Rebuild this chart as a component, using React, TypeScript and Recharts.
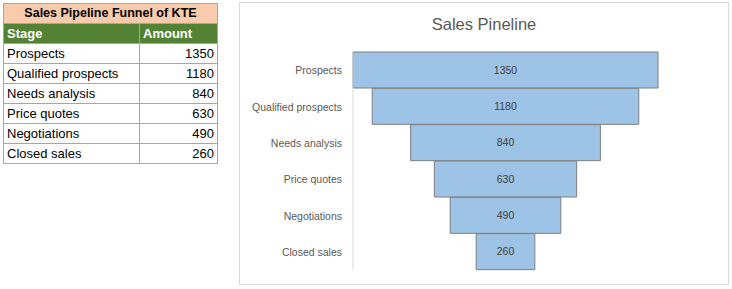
import { BarChart, Bar, XAxis, YAxis, LabelList } from "recharts";

const stages = [
  "Prospects",
  "Qualified prospects",
  "Needs analysis",
  "Price quotes",
  "Negotiations",
  "Closed sales",
];
const amounts = [1350, 1180, 840, 630, 490, 260];

const maxAmount = Math.max(...amounts);
const data = stages.map((stage, i) => ({
  stage,
  offset: (maxAmount - amounts[i]) / 2,
  amount: amounts[i],
}));

const FONT = '"Liberation Sans", Arial, sans-serif';
const cellBorder = "1px solid #a6a6a6";

function StageTick({ x, y, payload }: any) {
  return (
    <text x={x} y={y} dy={4} textAnchor="end" fontSize={10.5} fill="#595959" fontFamily={FONT}>
      {payload.value}
    </text>
  );
}

function PipelineTable() {
  const cell = {
    borderLeft: cellBorder,
    borderTop: cellBorder,
    height: 19,
    padding: "0 3px",
    fontSize: 13,
    lineHeight: "19px",
    color: "#000",
  } as const;
  return (
    <div
      style={{
        position: "absolute",
        left: 3,
        top: 3,
        width: 214,
        fontFamily: FONT,
        borderRight: cellBorder,
        borderBottom: cellBorder,
      }}
    >
      <div
        style={{
          ...cell,
          background: "#F8CBAD",
          fontWeight: "bold",
          textAlign: "center",
          fontSize: 12.5,
        }}
      >
        Sales Pipeline Funnel of KTE
      </div>
      <div style={{ display: "flex" }}>
        <div style={{ ...cell, width: 129, background: "#548235", color: "#fff", fontWeight: "bold" }}>
          Stage
        </div>
        <div style={{ ...cell, flex: 1, background: "#548235", color: "#fff", fontWeight: "bold" }}>
          Amount
        </div>
      </div>
      {stages.map((s, i) => (
        <div key={s} style={{ display: "flex" }}>
          <div style={{ ...cell, width: 129 }}>{s}</div>
          <div style={{ ...cell, flex: 1, textAlign: "right" }}>{amounts[i]}</div>
        </div>
      ))}
    </div>
  );
}

export default function App() {
  return (
    <div
      style={{
        position: "absolute",
        left: 0,
        top: 0,
        width: 732,
        height: 289,
        background: "#fff",
        fontFamily: FONT,
      }}
    >
      <PipelineTable />
      <div
        style={{
          position: "absolute",
          left: 239,
          top: 2,
          width: 488,
          height: 281,
          border: "1px solid #d9d9d9",
        }}
      >
        <div
          style={{
            position: "absolute",
            left: 0,
            top: 12,
            width: "100%",
            textAlign: "center",
            fontSize: 16.5,
            color: "#595959",
          }}
        >
          Sales Pineline
        </div>
        <BarChart
          width={488}
          height={281}
          data={data}
          layout="vertical"
          barCategoryGap={0}
          margin={{ top: 49, right: 70, bottom: 14, left: 0 }}
        >
          <XAxis type="number" hide domain={[0, maxAmount]} />
          <YAxis
            type="category"
            dataKey="stage"
            width={113}
            tickLine={false}
            axisLine={{ stroke: "#d9d9d9" }}
            tickMargin={5}
            tick={<StageTick />}
          />
          <Bar dataKey="offset" stackId="a" fill="transparent" isAnimationActive={false} />
          <Bar
            dataKey="amount"
            stackId="a"
            fill="#9DC3E6"
            stroke="#7f7f7f"
            strokeWidth={1}
            isAnimationActive={false}
          >
            <LabelList dataKey="amount" position="center" fill="#404040" fontSize={10.5} fontFamily={FONT} />
          </Bar>
        </BarChart>
      </div>
    </div>
  );
}
